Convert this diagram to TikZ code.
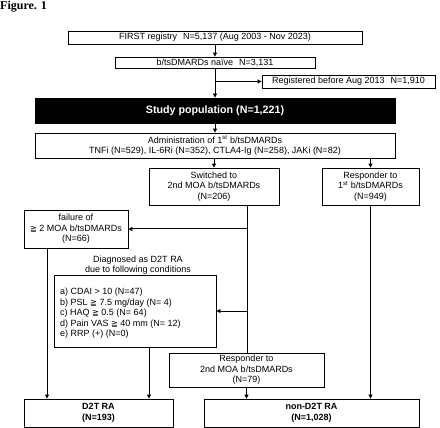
\documentclass[tikz,border=0pt]{standalone}
\usepackage{fontspec}
\setmainfont{Liberation Sans}
\newfontfamily\figfont{Liberation Serif}
\newfontfamily\symfont[Scale=0.9]{DejaVu Sans}
\usetikzlibrary{arrows.meta}
\newcommand{\gq}{{\symfont ≧}}
\newcommand{\gap}{\hspace{6pt}}
\begin{document}
\begin{tikzpicture}[x=1pt,y=-1pt,
  txt/.style={font=\fontsize{9}{10.5}\selectfont, inner sep=1pt, align=center},
  bx/.style={txt, draw, line width=0.8pt},
  arr/.style={-{Triangle[length=4pt,width=4pt]}, line width=1pt},
  ln/.style={line width=1pt}]
\useasboundingbox (0,0) rectangle (440,428);

\node[anchor=north west, inner sep=0pt, font=\fontsize{12}{14}\selectfont\figfont\bfseries] (figlabel) at (0,0.5) {Figure. 1};

\node[bx, minimum width=294pt, minimum height=13pt] (first) at (215,37.5) {FIRST registry\gap N=5,137 (Aug 2003 - Nov 2023)};
\node[bx, minimum width=200pt, minimum height=11pt] (naive) at (215,62.5) {b/tsDMARDs naïve\gap N=3,131};
\node[bx, minimum width=173pt, minimum height=13pt] (reg) at (348.5,81.5) {Registered before Aug 2013\gap N=1,910};
\node[bx, fill=black, text=white, minimum width=360pt, minimum height=25pt, font=\fontsize{10.7}{12}\selectfont\bfseries] (study) at (215,110.5) {Study population (N=1,221)};
\node[bx, minimum width=360pt, minimum height=25pt] (admin) at (215,145.5) {Administration of 1\textsuperscript{st} b/tsDMARDs\\TNFi (N=529), IL-6Ri (N=352), CTLA4-Ig (N=258), JAKi (N=82)};
\node[bx, minimum width=130pt, minimum height=37pt] (switched) at (214,186.5) {Switched to\\2nd MOA b/tsDMARDs\\(N=206)};
\node[bx, minimum width=97pt, minimum height=37pt] (resp1) at (370.5,186.5) {Responder to\\1\textsuperscript{st} b/tsDMARDs\\(N=949)};
\node[bx, minimum width=104pt, minimum height=38pt] (fail) at (76,229) {failure of\\\gq\ 2 MOA b/tsDMARDs\\(N=66)};
\node[txt] (diag) at (138,265) {Diagnosed as D2T RA\\due to following conditions};
\node[bx, minimum width=162pt, minimum height=72pt] (cond) at (135,311) {};
\node[txt, align=left, anchor=north west, inner sep=0pt] (condtext) at (60,288) {a) CDAI > 10 (N=47)\\b) PSL \gq\ 7.5 mg/day (N= 4)\\c) HAQ \gq\ 0.5 (N= 64)\\d) Pain VAS \gq\ 40 mm (N= 12)\\e) RRP (+) (N=0)};
\node[bx, minimum width=155pt, minimum height=34pt] (resp2) at (246.5,370) {Responder to\\2nd MOA b/tsDMARDs\\(N=79)};
\node[bx, minimum width=149pt, minimum height=28pt, font=\fontsize{9}{10.5}\selectfont\bfseries] (d2t) at (98.5,413) {D2T RA\\(N=193)};
\node[bx, minimum width=215pt, minimum height=28pt, font=\fontsize{9}{10.5}\selectfont\bfseries] (nond2t) at (311.5,413) {non-D2T RA\\(N=1,028)};

\coordinate (vx) at (247,0);
\coordinate (fx) at (47,0);
\coordinate (cx) at (149,0);

\draw[arr] (first.south) -- (naive.north);
\draw[arr] (naive.south) -- (study.north);
\draw[arr] (naive.south |- reg.west) -- (reg.west);
\draw[arr] (study.south) -- (admin.north);
\draw[arr] (switched.north |- admin.south) -- (switched.north);
\draw[arr] (resp1.north |- admin.south) -- (resp1.north);
\draw[ln] (vx |- switched.south) -- (vx |- resp2.north);
\draw[arr] (vx |- fail.east) -- (fail.east);
\draw[arr] (vx |- cond.east) -- (cond.east);
\draw[arr] (resp2.south) -- (resp2.south |- nond2t.north);
\draw[arr] (fx |- fail.south) -- (fx |- d2t.north);
\draw[arr] (cx |- cond.south) -- (cx |- d2t.north);
\draw[arr] (resp1.south) -- (resp1.south |- nond2t.north);
\end{tikzpicture}
\end{document}
